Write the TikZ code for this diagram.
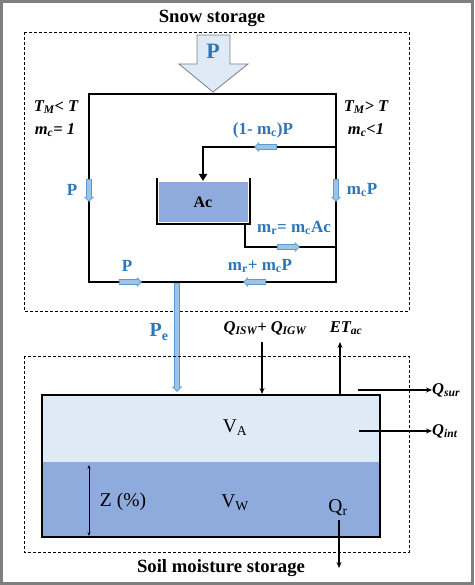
\documentclass[tikz,border=0pt]{standalone}
\usepackage{fontspec}
\setmainfont{Liberation Serif}
\usetikzlibrary{arrows.meta,shapes.arrows}
\definecolor{flowtext}{RGB}{46,117,182}
\definecolor{flowfill}{RGB}{157,195,230}
\definecolor{flowline}{RGB}{91,155,213}
\definecolor{palefill}{RGB}{222,235,247}
\definecolor{deepfill}{RGB}{143,170,220}
\definecolor{framegray}{RGB}{127,127,127}
\newcommand{\sub}[1]{\textsubscript{#1}}
\tikzset{
  wall/.style={line width=2pt},
  zone/.style={dash pattern={on 3pt off 2pt},line width=0.8pt},
  flowtip/.style={single arrow,draw=flowline,fill=flowfill,line width=0.7pt,
    minimum height=22pt,minimum width=0pt,inner xsep=0pt,inner ysep=2.2pt,
    single arrow head extend=1.4pt,single arrow head indent=0pt},
  bluelab/.style={text=flowtext,font=\bfseries\fontsize{17}{20}\selectfont,inner sep=0pt},
  blacklab/.style={font=\bfseries\itshape\fontsize{16.5}{20}\selectfont,inner sep=0pt},
  plainlab/.style={font=\fontsize{19.5}{22}\selectfont,inner sep=0pt},
  titlelab/.style={font=\bfseries\fontsize{18.7}{22}\selectfont,inner sep=0pt},
  flux/.style={line width=1.3pt,-{Stealth[length=6pt,width=5pt]}}
}
\begin{document}
\begin{tikzpicture}[x=1pt,y=-1pt]
	\useasboundingbox (0,0) rectangle (474,585);
	%frame
	\draw [framegray,line width=3pt] (1.5,1.5) rectangle (472.5,583.5);
	
	%Snow storage zone
	\draw [zone] (24,32) rectangle (409,311);
	\node [titlelab] (snowtitle) at (212,18) {Snow storage};
	%big input arrow
	\draw [framegray,fill=palefill,line width=0.8pt] (197,35) -- (230,35) -- (230,64) -- (248,64) -- (213,92) -- (179,64) -- (197,64) -- cycle;
	\node [text=flowtext,font=\bfseries\fontsize{22}{24}\selectfont,inner sep=0pt] (bigP) at (213,51) {P};
	
	%snow loop
	\coordinate (loopNW) at (89,94);
	\coordinate (loopSE) at (336,282);
	\draw [wall] (loopNW) rectangle (loopSE);
	\coordinate (splitR) at (336,147);
	\coordinate (splitL) at (203,147);
	\coordinate (acIn) at (203,181);
	\draw [wall,-{Triangle[length=7pt,width=8pt]}] (splitR) -- (splitL) -- (acIn);
	
	%Ac reservoir
	\fill [deepfill] (159,182) rectangle (248,222);
	\draw [wall] (157,178) -- (157,224) -- (250,224) -- (250,178);
	\node [font=\bfseries\fontsize{16}{18}\selectfont,inner sep=0pt] (ac) at (203,202) {Ac};
	\coordinate (acOut) at (245,224);
	\coordinate (acJoin) at (336,247);
	\draw [wall] (acOut) |- (acJoin);
	
	%small flow arrows
	\node [flowtip,rotate=180] (fRefreeze) at (267,147) {};
	\node [flowtip,rotate=-90] (fLeft) at (89,189) {};
	\node [flowtip,rotate=-90] (fRight) at (336,189) {};
	\node [flowtip] (fMelt) at (287,247) {};
	\node [flowtip] (fBotL) at (129,282) {};
	\node [flowtip,rotate=180] (fBotR) at (256,282) {};
	
	%snow labels
	\node [blacklab] (condL) at (56,107) {T\sub{M}< T};
	\node [blacklab] (mcL) at (55,130) {m\sub{c}= 1};
	\node [blacklab] (condR) at (366,107) {T\sub{M}> T};
	\node [blacklab] (mcR) at (366,130) {m\sub{c}<1};
	\node [bluelab] (lRefreeze) at (263,130) {(1- m\sub{c})P};
	\node [bluelab] (lLeft) at (72,190) {P};
	\node [bluelab] (lRight) at (362,190) {m\sub{c}P};
	\node [bluelab] (lMelt) at (294,228) {m\sub{r}= m\sub{c}Ac};
	\node [bluelab] (lBotL) at (127,266) {P};
	\node [bluelab] (lBotR) at (260,266) {m\sub{r}+ m\sub{c}P};
	
	%effective rain
	\node [flowtip,rotate=-90,minimum height=108pt,single arrow head extend=1.8pt] (pe) at (177,336) {};
	\node [text=flowtext,font=\bfseries\fontsize{20}{22}\selectfont,inner sep=0pt] (lPe) at (159,332) {P\sub{e}};
	
	%Soil moisture zone
	\draw [zone] (24,356) rectangle (409,552);
	\node [titlelab] (soiltitle) at (221,568) {Soil moisture storage};
	\fill [palefill] (42,395) rectangle (380,462);
	\fill [deepfill] (42,462) rectangle (380,537);
	\draw [wall] (42,395) rectangle (380,537);
	\node [plainlab] (va) at (235,428) {V\sub{A}};
	\node [plainlab] (vw) at (235,503) {V\sub{W}};
	\node [plainlab] (zpc) at (123,502) {Z (\%)};
	\node [plainlab] (qr) at (338,508) {Q\sub{r}};
	\coordinate (zTop) at (89,465);
	\coordinate (zBot) at (89,536);
	\draw [line width=0.6pt,{Stealth[length=4pt,width=3pt]}-{Stealth[length=4pt,width=3pt]}] (zTop) -- (zBot);
	
	%soil fluxes
	\node [blacklab] (lInflow) at (265,328) {Q\sub{ISW}+ Q\sub{IGW}};
	\node [blacklab] (lEt) at (346,328) {ET\sub{ac}};
	\node [blacklab,anchor=west] (lSur) at (432,390) {Q\sub{sur}};
	\node [blacklab,anchor=west] (lInt) at (432,431) {Q\sub{int}};
	\coordinate (inflowTop) at (262,342);
	\coordinate (inflowBot) at (262,394);
	\draw [flux] (inflowTop) -- (inflowBot);
	\coordinate (etBot) at (340,394);
	\coordinate (etTop) at (340,342);
	\draw [flux] (etBot) -- (etTop);
	\coordinate (surStart) at (358,390);
	\draw [flux] (surStart) -- (lSur.west);
	\coordinate (intStart) at (359,431);
	\draw [flux] (intStart) -- (lInt.west);
	\coordinate (qrStart) at (339,520);
	\coordinate (qrEnd) at (339,568);
	\draw [flux] (qrStart) -- (qrEnd);
	
\end{tikzpicture}
\end{document}
